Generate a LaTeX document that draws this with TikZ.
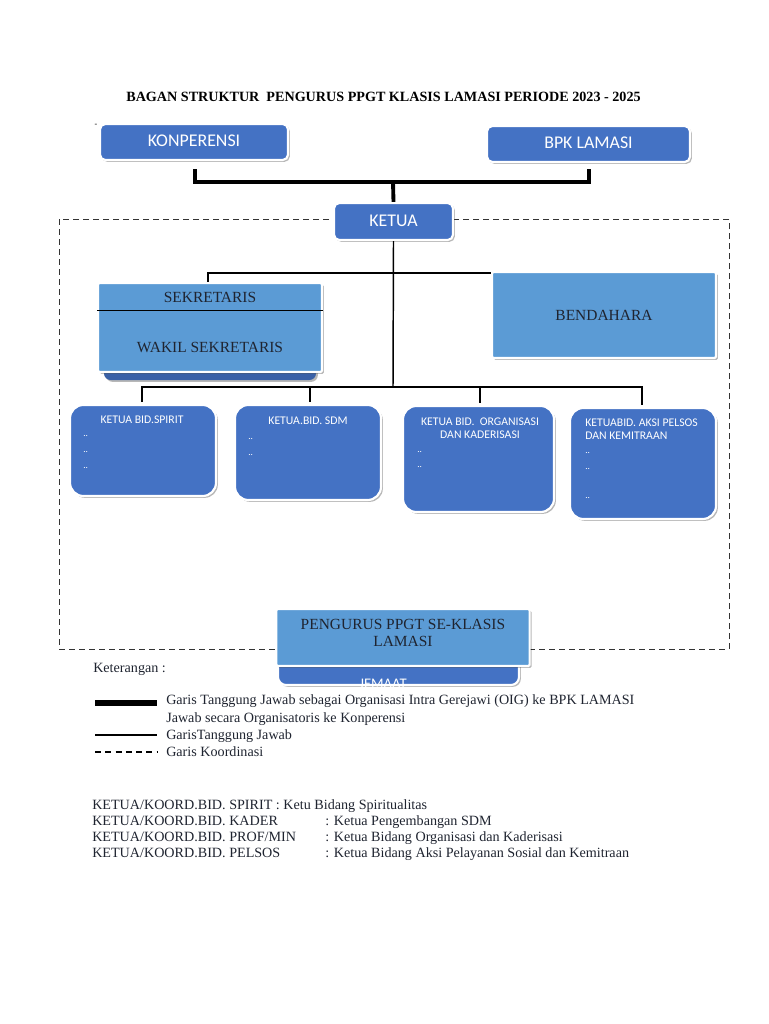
\documentclass[tikz,border=0pt]{standalone}
\usepackage{fontspec}
\setmainfont{Liberation Serif}
\newfontfamily\carl{Carlito}
\usetikzlibrary{shadows,calc}
\newcommand\pxu{0.75pt}
\definecolor{dblue}{HTML}{4472C4}
\definecolor{lblue}{HTML}{5B9BD5}
\definecolor{txtd}{HTML}{1F2430}
\begin{document}
\begin{tikzpicture}[x=0.75pt,y=-0.75pt,
  shd/.style={drop shadow={shadow xshift=1.4pt,shadow yshift=-1.4pt,fill=black,opacity=0.28}},
  darkbox/.style={rectangle,rounded corners=4pt,fill=dblue,draw=white,line width=1.6pt,shd,
     text=white,font=\carl\fontsize{13.4}{15}\selectfont,inner sep=0pt},
  bidbox/.style={darkbox,rounded corners=10pt},
  lightbox/.style={rectangle,rounded corners=1pt,fill=lblue,draw=white,line width=1.6pt,shd,
     text=txtd,font=\fontsize{11.6}{14}\selectfont,inner sep=0pt},
  bidtitle/.style={text=white,font=\carl\fontsize{8.8}{10}\selectfont,inner sep=0pt},
  dots/.style={text=white,font=\carl\fontsize{7}{8}\selectfont,inner sep=0pt,anchor=west},
  thickline/.style={line width=2.9pt,black},
  thinline/.style={line width=1.1pt,black},
  dashline/.style={line width=0.7pt,black!80,dash pattern=on 4.5pt off 3pt},
  legtext/.style={anchor=base west,inner sep=0pt,font=\fontsize{10.6}{12}\selectfont,text=txtd},
]
\useasboundingbox (0,0) rectangle (768,1024);
\fill[white] (0,0) rectangle (768,1024);

% title
\node[inner sep=0pt,anchor=base,font=\bfseries\fontsize{10.6}{12}\selectfont] (title) at (383.5,101)
  {BAGAN STRUKTUR\ \ PENGURUS PPGT KLASIS LAMASI PERIODE 2023 - 2025};
\node[inner sep=0pt,font=\fontsize{6}{7}\selectfont] (dot) at (96,125) {-};

% dashed frame
\coordinate (dTL) at (59,219);
\coordinate (dBR) at (729,649);
\draw[dashline] (dTL) rectangle (dBR);

% top boxes
\node[darkbox,minimum width=188*\pxu,minimum height=36*\pxu] (konp) at (194,142) {\raisebox{2pt}{KONPERENSI}};
\node[darkbox,minimum width=203*\pxu,minimum height=36*\pxu] (bpk) at (588.5,144) {\raisebox{1.5pt}{BPK LAMASI}};
\node[darkbox,minimum width=119*\pxu,minimum height=37*\pxu] (ketua) at (393.5,221.5) {\raisebox{1.5pt}{KETUA}};

% thick connectors
\coordinate (j1) at (393,182);
\draw[thickline] ($(konp.south)+(1,8)$) -- ($(konp.south |- j1)+(1,0)$) -- ($(bpk.south |- j1)+(0.5,0)$) -- ($(bpk.south)+(0.5,6)$);
\draw[thickline] (j1) -- (ketua.north);

% thin connectors
\coordinate (j2) at (393,273);
\coordinate (j3) at (393,387);
\draw[thinline] (ketua.south) -- (j3);

% sekretaris / bendahara
\node[rectangle,rounded corners=5pt,fill=dblue!85!black,minimum width=212*\pxu,minimum height=50*\pxu,shd] (sekshadow) at (210,355) {};
\node[lightbox,minimum width=224*\pxu,minimum height=89*\pxu] (sek) at (210,327.5) {};
\draw[thinline,line width=0.9pt] ($(sek.west)+(0,-17)$) coordinate (sl) -- (sl -| sek.east);
\node[inner sep=0pt,text=txtd,font=\fontsize{11.6}{14}\selectfont] (sektxt) at (210,297) {SEKRETARIS};
\node[inner sep=0pt,text=txtd,font=\fontsize{11.6}{14}\selectfont] (wsektxt) at (210,347) {WAKIL SEKRETARIS};
\node[lightbox,minimum width=224*\pxu,minimum height=86*\pxu] (bend) at (604,315) {\raisebox{-3pt}{BENDAHARA}};
\draw[thinline] ($(sek.north)+(-2,0)$) |- (bend.west |- j2);

% bidang boxes
\node[bidbox,minimum width=146*\pxu,minimum height=91*\pxu] (b1) at (143,450.5) {};
\node[bidbox,minimum width=146*\pxu,minimum height=95*\pxu] (b2) at (308,452.5) {};
\node[bidbox,minimum width=151*\pxu,minimum height=106*\pxu] (b3) at (478.5,459) {};
\node[bidbox,minimum width=146*\pxu,minimum height=111*\pxu] (b4) at (643,463.5) {};
\draw[thinline] ($(b1.north)+(-1,-2)$) |- ($(b4.north |- j3)+(-1,0)$) -- ($(b4.north)+(-1,-2)$);
\draw[thinline] ($(b2.north)+(2,-2)$) -- ($(b2.north |- j3)+(2,0)$);
\draw[thinline] ($(b3.north)+(1.5,-2)$) -- ($(b3.north |- j3)+(1.5,0)$);

\node[bidtitle] (t1) at (142,420) {KETUA BID.SPIRIT};
\node[dots] (d11) at (83,436) {..};
\node[dots] (d12) at (83,452) {..};
\node[dots] (d13) at (83,468) {..};
\node[bidtitle] (t2) at (308,421) {KETUA.BID. SDM};
\node[dots] (d21) at (248,439) {..};
\node[dots] (d22) at (248,455) {..};
\node[bidtitle,align=center] (t3) at (480,428.5) {KETUA BID.\ \ ORGANISASI\\DAN KADERISASI};
\node[dots] (d31) at (417,452) {..};
\node[dots] (d32) at (417,467) {..};
\node[bidtitle,align=left,anchor=west] (t4) at (585,429) {KETUABID. AKSI PELSOS\\DAN KEMITRAAN};
\node[dots] (d41) at (585,453) {..};
\node[dots] (d42) at (585,469) {..};
\node[dots] (d43) at (585,498) {..};

% pengurus boxes
\node[darkbox,rounded corners=6pt,minimum width=241*\pxu,minimum height=46*\pxu] (jem) at (398.5,662) {};
\node[inner sep=0pt,text=white,font=\carl\fontsize{11}{13}\selectfont] (jemtxt) at (383,684) {JEMAAT};
\node[lightbox,minimum width=252*\pxu,minimum height=57*\pxu,align=center,font=\fontsize{11.6}{12.2}\selectfont] (peng) at (403,637.5)
  {\raisebox{14pt}{\parbox{190pt}{\centering PENGURUS PPGT SE-KLASIS\\LAMASI}}};

% legend
\node[legtext] (ket) at (93,672) {Keterangan :};
\coordinate (l1a) at (95,703); \coordinate (l1b) at (157,703);
\draw[line width=3.8pt] (l1a) -- (l1b);
\node[legtext] (lt1) at (166,704) {Garis Tanggung Jawab sebagai Organisasi Intra Gerejawi (OIG) ke BPK LAMASI};
\node[legtext] (lt1b) at (166,722) {Jawab secara Organisatoris ke Konperensi};
\coordinate (l2a) at (95,735); \coordinate (l2b) at (157,735);
\draw[line width=1pt] (l2a) -- (l2b);
\node[legtext] (lt2) at (166,739) {GarisTanggung Jawab};
\coordinate (l3a) at (95,752); \coordinate (l3b) at (157,752);
\draw[line width=0.8pt,dash pattern=on 4.5pt off 3.2pt] (l3a) -- (l3b);
\node[legtext] (lt3) at (166,756) {Garis Koordinasi};

% abbreviations
\node[legtext] (a1) at (92,809) {KETUA/KOORD.BID. SPIRIT : Ketu Bidang Spiritualitas};
\node[legtext] (a2) at (92,825) {KETUA/KOORD.BID. KADER};
\node[legtext] (a2r) at (325,825) {: Ketua Pengembangan SDM};
\node[legtext] (a3) at (92,841) {KETUA/KOORD.BID. PROF/MIN};
\node[legtext] (a3r) at (325,841) {: Ketua Bidang Organisasi dan Kaderisasi};
\node[legtext] (a4) at (92,857) {KETUA/KOORD.BID. PELSOS};
\node[legtext] (a4r) at (325,857) {: Ketua Bidang Aksi Pelayanan Sosial dan Kemitraan};
\end{tikzpicture}
\end{document}
